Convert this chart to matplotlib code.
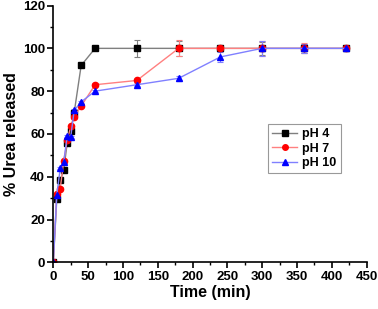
import numpy as np
import matplotlib
matplotlib.use('Agg')
import matplotlib.pyplot as plt
from matplotlib.lines import Line2D
from matplotlib.ticker import MultipleLocator

# data
t = [0, 5, 10, 15, 20, 25, 30, 40, 60, 120, 180, 240, 300, 360, 420]
ph4 = [0, 29.5, 38.5, 43, 56, 61.5, 70, 92, 100, 100, 100, 100, 100, 100, 100]
ph4_err = [0, 0.5, 0.5, 0.5, 1, 1, 1, 0.5, 0.5, 4, 3.5, 0.5, 3, 2, 0.5]
ph7 = [0, 32, 34.5, 47.5, 57, 63.5, 68, 73, 83, 85, 100, 100, 100, 100, 100]
ph7_err = [0, 0.5, 0.5, 0.5, 0.5, 0.5, 0.5, 0.5, 0.8, 0.8, 3.7, 0.5, 3.4, 2.3, 0.5]
ph10 = [0, 31.5, 44, 47, 59, 58.5, 71, 75, 80, 83, 86, 96, 100, 100, 100]
ph10_err = [0, 0.5, 0.5, 0.5, 0.5, 0.5, 0.5, 0.5, 0.5, 0.8, 1.2, 2.5, 3.4, 2.0, 0.5]

plt.rcParams['font.family'] = ['Liberation Sans', 'DejaVu Sans']
plt.rcParams['font.weight'] = 'bold'

fig = plt.figure(figsize=(3.78, 3.09), dpi=100)
ax = fig.add_axes([0.141, 0.151, 0.829, 0.831])

series = [
    (ph4, ph4_err, 'pH 4', 's', 'black', '#7f7f7f'),
    (ph7, ph7_err, 'pH 7', 'o', 'red', '#ff8080'),
    (ph10, ph10_err, 'pH 10', '^', 'blue', '#8080ff'),
]
handles = []
for y, e, lab, m, mc, lc in series:
    ax.errorbar(t, y, yerr=e, color=lc, lw=1.0, marker=m, ms=4.5,
                mfc=mc, mec=mc, ecolor=lc, elinewidth=0.8, capsize=2,
                capthick=0.8)
    handles.append(Line2D([], [], color=lc, lw=1.0, marker=m, ms=4,
                          mfc=mc, mec=mc, label=lab))

ax.set_xlim(0, 450)
ax.set_ylim(0, 120)
ax.xaxis.set_major_locator(MultipleLocator(50))
ax.xaxis.set_minor_locator(MultipleLocator(25))
ax.yaxis.set_major_locator(MultipleLocator(20))
ax.yaxis.set_minor_locator(MultipleLocator(10))
for s in ['top', 'right']:
    ax.spines[s].set_visible(False)
for s in ['left', 'bottom']:
    ax.spines[s].set_linewidth(1.2)
ax.tick_params(which='major', direction='out', length=4, width=1.2,
               labelsize=9.5, pad=2)
ax.tick_params(which='minor', direction='out', length=2.5, width=1.0)
for lbl in ax.get_xticklabels() + ax.get_yticklabels():
    lbl.set_fontweight('bold')

ax.set_xlabel('Time (min)', fontsize=11.5, fontweight='bold', labelpad=2)
ax.set_ylabel('% Urea released', fontsize=11.5, fontweight='bold', labelpad=3)

leg = ax.legend(handles=handles, loc='upper left',
                bbox_to_anchor=(0.685, 0.54), fontsize=9,
                frameon=True, fancybox=False, edgecolor='#808080',
                handlelength=2.0, borderpad=0.35, labelspacing=0.2,
                handletextpad=0.4, borderaxespad=0)
leg.get_frame().set_linewidth(0.8)
for txt in leg.get_texts():
    txt.set_fontweight('bold')

fig.savefig('out.png', dpi=100, facecolor='white')
